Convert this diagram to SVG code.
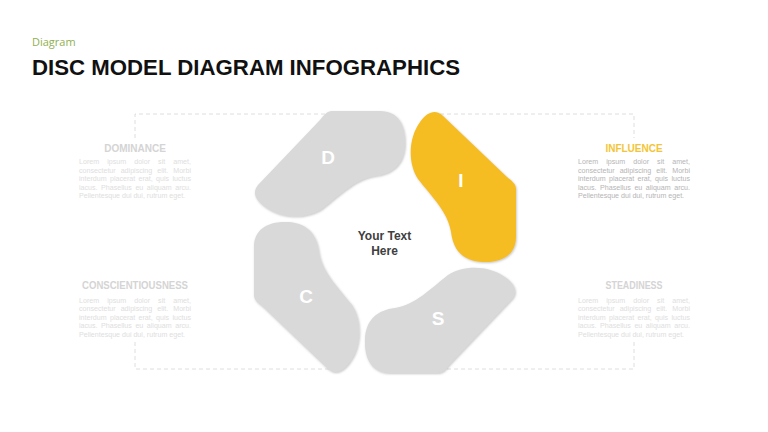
<svg xmlns="http://www.w3.org/2000/svg" width="768" height="432" viewBox="0 0 768 432">
  <style>
    .title{font-family:"Liberation Sans",Arial,sans-serif;font-weight:bold;font-size:22px;fill:#111111}
    .sub{font-family:"Open Sans","Liberation Sans",sans-serif;font-size:11px;fill:#8fb04f}
    .head{font-family:"Liberation Sans",Arial,sans-serif;font-weight:bold;font-size:10px;fill:#d4d4d4;text-anchor:middle}
    .headY{fill:#f3c536}
    .body{font-family:"Liberation Sans",Arial,sans-serif;font-size:7.1px;fill:#dedede}
    .bodyDark{fill:#b5b5b5}
    .letter{font-family:"Liberation Sans",Arial,sans-serif;font-weight:bold;font-size:19px;fill:#ffffff;text-anchor:middle}
    .center{font-family:"Liberation Sans",Arial,sans-serif;font-weight:bold;font-size:12px;fill:#404040;text-anchor:middle}
    .dash{stroke:#d6d6d6;stroke-width:0.8;stroke-dasharray:4 3;fill:none}
    .grey{fill:#d9d9d9}
    .gold{fill:#f6bd22}
  </style>
  <defs>
    <path id="blob" d="M 332 111 L 380 111 C 398 111 406 125 405 145 C 404 165 392 174 375 176 C 355 179 340 195 322 209 C 305 220 280 218 265 207 C 255 200 252 192 258 185 L 320 120 C 324 115 327 111 332 111 Z"/>
    <filter id="sh" x="-10%" y="-10%" width="120%" height="120%">
      <feDropShadow dx="0.8" dy="1" stdDeviation="1" flood-color="#808080" flood-opacity="0.45"/>
    </filter>
  </defs>

  <rect width="768" height="432" fill="#ffffff"/>

  <text class="sub" x="32" y="46">Diagram</text>
  <text class="title" x="32" y="75" textLength="428" lengthAdjust="spacingAndGlyphs">DISC MODEL DIAGRAM INFOGRAPHICS</text>

  <g id="connectors">
    <path class="dash" d="M 135 138 L 135 114 L 330 114"/>
    <path class="dash" d="M 440 114 L 634 114 L 634 138"/>
    <path class="dash" d="M 135 342 L 135 369 L 335 369"/>
    <path class="dash" d="M 440 369 L 634 369 L 634 342"/>
  </g>

  <g id="node-d">
    <g filter="url(#sh)"><use href="#blob" class="grey"/></g>
    <text class="letter" x="328" y="164">D</text>
  </g>
  <g id="node-i">
    <g filter="url(#sh)"><use href="#blob" class="gold" transform="rotate(90 385 242)"/></g>
    <text class="letter" x="461" y="187">I</text>
  </g>
  <g id="node-s">
    <g filter="url(#sh)"><use href="#blob" class="grey" transform="rotate(180 385 242)"/></g>
    <text class="letter" x="438" y="325">S</text>
  </g>
  <g id="node-c">
    <g filter="url(#sh)"><use href="#blob" class="grey" transform="rotate(-90 385 242)"/></g>
    <text class="letter" x="306" y="303">C</text>
  </g>

  <g id="center">
    <text class="center" x="384.5" y="240">Your Text</text>
    <text class="center" x="384.5" y="255">Here</text>
  </g>

  <g id="dominance">
    <text class="head" x="135" y="152">DOMINANCE</text>
    <text class="body" y="164"><tspan x="79">Lorem</tspan><tspan x="107.2">ipsum</tspan><tspan x="134.22">dolor</tspan><tspan x="158.08">sit</tspan><tspan x="173.26">amet,</tspan></text>
    <text class="body" y="172.5"><tspan x="79">consectetur</tspan><tspan x="120.68">adipiscing</tspan><tspan x="157.23">elit.</tspan><tspan x="173.26">Morbi</tspan></text>
    <text class="body" y="181"><tspan x="79">interdum</tspan><tspan x="109.96">placerat</tspan><tspan x="138.55">erat,</tspan><tspan x="156.1">quis</tspan><tspan x="172.46">luctus</tspan></text>
    <text class="body" y="189.5"><tspan x="79">lacus.</tspan><tspan x="101.08">Phasellus</tspan><tspan x="135.39">eu</tspan><tspan x="146.82">aliquam</tspan><tspan x="175.21">arcu.</tspan></text>
    <text class="body" x="79" y="198">Pellentesque dui dui, rutrum eget.</text>
  </g>

  <g id="influence">
    <text class="head headY" x="634" y="152">INFLUENCE</text>
    <text class="body bodyDark" y="164"><tspan x="578">Lorem</tspan><tspan x="606.2">ipsum</tspan><tspan x="633.22">dolor</tspan><tspan x="657.08">sit</tspan><tspan x="672.26">amet,</tspan></text>
    <text class="body bodyDark" y="172.5"><tspan x="578">consectetur</tspan><tspan x="619.68">adipiscing</tspan><tspan x="656.23">elit.</tspan><tspan x="672.26">Morbi</tspan></text>
    <text class="body bodyDark" y="181"><tspan x="578">interdum</tspan><tspan x="608.96">placerat</tspan><tspan x="637.55">erat,</tspan><tspan x="655.1">quis</tspan><tspan x="671.46">luctus</tspan></text>
    <text class="body bodyDark" y="189.5"><tspan x="578">lacus.</tspan><tspan x="600.08">Phasellus</tspan><tspan x="634.39">eu</tspan><tspan x="645.82">aliquam</tspan><tspan x="674.21">arcu.</tspan></text>
    <text class="body bodyDark" x="578" y="198">Pellentesque dui dui, rutrum eget.</text>
  </g>

  <g id="conscientiousness">
    <text class="head" x="135" y="289" textLength="106" lengthAdjust="spacingAndGlyphs">CONSCIENTIOUSNESS</text>
    <text class="body" y="302.5"><tspan x="79">Lorem</tspan><tspan x="107.2">ipsum</tspan><tspan x="134.22">dolor</tspan><tspan x="158.08">sit</tspan><tspan x="173.26">amet,</tspan></text>
    <text class="body" y="311"><tspan x="79">consectetur</tspan><tspan x="120.68">adipiscing</tspan><tspan x="157.23">elit.</tspan><tspan x="173.26">Morbi</tspan></text>
    <text class="body" y="319.5"><tspan x="79">interdum</tspan><tspan x="109.96">placerat</tspan><tspan x="138.55">erat,</tspan><tspan x="156.1">quis</tspan><tspan x="172.46">luctus</tspan></text>
    <text class="body" y="328"><tspan x="79">lacus.</tspan><tspan x="101.08">Phasellus</tspan><tspan x="135.39">eu</tspan><tspan x="146.82">aliquam</tspan><tspan x="175.21">arcu.</tspan></text>
    <text class="body" x="79" y="336.5">Pellentesque dui dui, rutrum eget.</text>
  </g>

  <g id="steadiness">
    <text class="head" x="634" y="289" textLength="57" lengthAdjust="spacingAndGlyphs">STEADINESS</text>
    <text class="body" y="302.5"><tspan x="578">Lorem</tspan><tspan x="606.2">ipsum</tspan><tspan x="633.22">dolor</tspan><tspan x="657.08">sit</tspan><tspan x="672.26">amet,</tspan></text>
    <text class="body" y="311"><tspan x="578">consectetur</tspan><tspan x="619.68">adipiscing</tspan><tspan x="656.23">elit.</tspan><tspan x="672.26">Morbi</tspan></text>
    <text class="body" y="319.5"><tspan x="578">interdum</tspan><tspan x="608.96">placerat</tspan><tspan x="637.55">erat,</tspan><tspan x="655.1">quis</tspan><tspan x="671.46">luctus</tspan></text>
    <text class="body" y="328"><tspan x="578">lacus.</tspan><tspan x="600.08">Phasellus</tspan><tspan x="634.39">eu</tspan><tspan x="645.82">aliquam</tspan><tspan x="674.21">arcu.</tspan></text>
    <text class="body" x="578" y="336.5">Pellentesque dui dui, rutrum eget.</text>
  </g>
</svg>
